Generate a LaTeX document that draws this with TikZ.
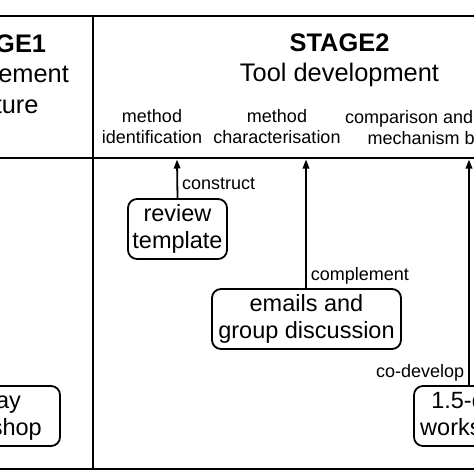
\documentclass[tikz,border=0pt]{standalone}
\usepackage{fontspec}
\setmainfont{Liberation Sans}
\usetikzlibrary{arrows.meta}
\begin{document}
\begin{tikzpicture}[x=1pt,y=-1pt,
  frame/.style={line width=2pt},
  box/.style={draw, line width=1.8pt, rounded corners=9pt, align=center, inner sep=0pt,
    font=\fontsize{23.5}{27.5}\selectfont, minimum height=60pt},
  hdr/.style={align=center, inner sep=0pt, font=\fontsize{25.4}{30.5}\selectfont},
  sub/.style={align=center, inner sep=0pt, font=\fontsize{18}{21}\selectfont},
  lab/.style={inner sep=0pt, font=\fontsize{18}{21}\selectfont},
  arr/.style={line width=1.8pt, -{Triangle[length=9pt,width=6.5pt]}}]
\useasboundingbox (0,0) rectangle (474,474);
\clip (0,0) rectangle (474,474);
% frame lines
\draw[frame] (-10,16) -- (484,16);
\draw[frame] (-10,158) -- (484,158);
\draw[frame] (-10,469) -- (484,469);
\draw[frame] (93,16) -- (93,469);
% stage headers
\node[hdr] (s1) at (-3.8,76.5) {\textbf{STAGE1}\\Requirement\\capture};
\node[hdr] (s2) at (339.5,60.5) {\textbf{STAGE2}\\Tool development};
% sub headers
\node[sub] (h1) at (152,127) {method\\identification};
\node[sub] (h2) at (277,127) {method\\characterisation};
\node[sub, anchor=west] (h3) at (345,129) {comparison and selection\\mechanism building};
% target points on the header line
\coordinate (t1) at (177,159.5);
\coordinate (t2) at (306,159.5);
\coordinate (t3) at (469,159.5);
% boxes
\node[box, minimum width=99pt] (rt) at (177.5,229) {review\\template};
\node[box, minimum width=189pt] (eg) at (306.5,319) {emails and\\group discussion};
\node[box, minimum width=113pt] (w2) at (470.5,416) {1.5-day\\workshop};
\node[box, minimum width=137pt] (w1) at (-8.5,416) {1-day\\workshop};
% arrows
\draw[arr] (rt.north) -- node[lab, pos=0.36, anchor=west, xshift=4pt] {construct} (t1);
\draw[arr] (eg.north -| t2) -- node[lab, pos=0.096, anchor=west, xshift=4pt] {complement} (t2);
\draw[arr] (w2.north -| t3) -- node[lab, pos=0.053, anchor=east, xshift=-4pt] {co-develop} (t3);
\end{tikzpicture}
\end{document}
